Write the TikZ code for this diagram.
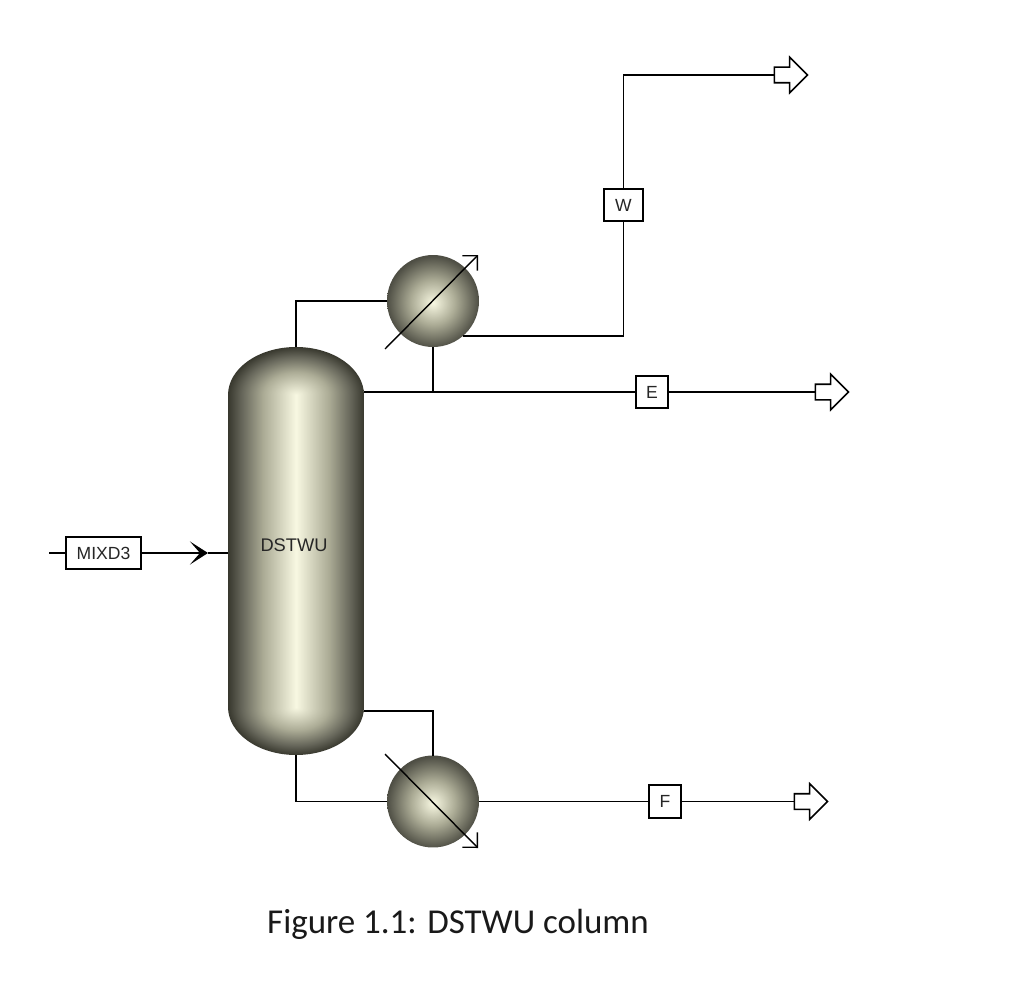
\documentclass[tikz,border=0pt]{standalone}
\usepackage{fontspec}
\setmainfont{Liberation Sans}
\newfontfamily\capfont{Carlito}
\usetikzlibrary{shapes.geometric, shapes.arrows, arrows.meta}

\definecolor{vesselLite}{HTML}{F8F8E2}
\definecolor{vesselMid}{HTML}{ACAC96}
\definecolor{vesselLow}{HTML}{66665A}
\definecolor{vesselDark}{HTML}{38382E}
\definecolor{ballDark}{HTML}{4E4E44}
\pgfdeclarehorizontalshading{vesselside}{100bp}{color(0bp)=(vesselDark); color(25bp)=(vesselDark); color(30bp)=(vesselLow); color(38bp)=(vesselMid); color(50bp)=(vesselLite); color(62bp)=(vesselMid); color(70bp)=(vesselLow); color(75bp)=(vesselDark); color(100bp)=(vesselDark)}
\pgfdeclareradialshading{vesselend}{\pgfpoint{0bp}{0bp}}{color(0bp)=(vesselLite); color(12bp)=(vesselMid); color(20bp)=(vesselLow); color(25bp)=(vesselDark); color(50bp)=(vesselDark)}
\pgfdeclareradialshading{exchball}{\pgfpoint{0bp}{-1bp}}{color(0bp)=(vesselLite); color(12bp)=(vesselMid); color(25bp)=(ballDark); color(50bp)=(ballDark)}

\tikzset{
	pipe/.style={line width=1.1pt},
	colend/.style={ellipse, inner sep=0pt, outer sep=0pt, minimum width=2.72cm, minimum height=1.92cm, shading=vesselend},
	colbody/.style={rectangle, inner sep=0pt, outer sep=0pt, minimum width=2.72cm, minimum height=6.24cm, shading=vesselside},
	exch/.style={circle, inner sep=0pt, outer sep=0pt, minimum size=1.84cm, shading=exchball},
	tag/.style={draw, fill=white, line width=1.1pt, inner sep=0pt, minimum height=0.65cm, font=\fontsize{10}{12}\selectfont, text=black!85},
	outlet/.style={single arrow, draw, fill=white, line width=0.9pt, inner xsep=0pt, inner ysep=0.14cm, outer sep=0pt, minimum height=0.66cm, minimum width=0.68cm, single arrow head extend=0.2cm, single arrow tip angle=90, single arrow head indent=0pt},
	crossbar/.style={line width=0.8pt, -{Straight Barb[length=0.21cm, width=0.42cm, line width=0.8pt]}}
}

\begin{document}
\begin{tikzpicture}[x=0.02cm, y=-0.02cm]
	\useasboundingbox (0, 0) rectangle (1034, 1000);

	\node[colend] (domeN) at (296, 395) {};
	\node[colend] (domeS) at (296, 707) {};
	\node[colbody] (col) at (296, 551) {};
	\node[font=\fontsize{10.4}{12}\selectfont, text=black!85] (collabel) at (294, 545) {DSTWU};
	\node[exch] (cond) at (433, 301) {};
	\node[exch] (reb) at (433, 801.5) {};

	\node[tag, minimum width=1.5cm] (mixd) at (103.5, 553) {MIXD3};
	\node[tag, minimum width=0.77cm] (W) at (623.5, 205) {W};
	\node[tag, minimum width=0.65cm] (E) at (652, 392) {E};
	\node[tag, minimum width=0.65cm] (F) at (665, 801.5) {F};

	\node[outlet] (outW) at (787, 75) {};
	\node[outlet] (outE) at (828, 392) {};
	\node[outlet] (outF) at (807, 801.5) {};

	\coordinate (feedin) at (49, 553);
	\coordinate (feedtip) at (208, 553);
	\coordinate (colE) at (364, 392);
	\coordinate (colR) at (364, 711);
	\coordinate (condA) at (385, 349);
	\coordinate (condB) at (478, 255);
	\coordinate (rebA) at (385, 754);
	\coordinate (rebB) at (478, 848);

	\draw[pipe]  (feedin) -- (mixd.west)
	       (feedtip) -- (mixd -| col.west)
	       (domeN.north) |- (cond.west)
	       (cond.-50) -| (W.south)
	       (W.north) |- (outW.tail)
	       (colE) -- (E.west)
	       (E.east) -- (outE.tail)
	       (cond.south) -- (cond.south |- colE)
	       (colR) -| (reb.north)
	       (domeS.south) |- (reb.west)
	       (reb.east) -- (F.west)
	       (F.east) -- (outF.tail);
	\draw[pipe, -{Stealth[length=0.36cm, width=0.46cm, inset=0.2cm]}] (mixd.east) -- (feedtip);
	\draw[crossbar] (condA) -- (condB);
	\draw[crossbar] (rebA) -- (rebB);

	\node[font=\capfont\fontsize{19.9}{24}\selectfont, text=black!90] (caption) at (458, 924) {Figure 1.1: DSTWU column};
\end{tikzpicture}
\end{document}
